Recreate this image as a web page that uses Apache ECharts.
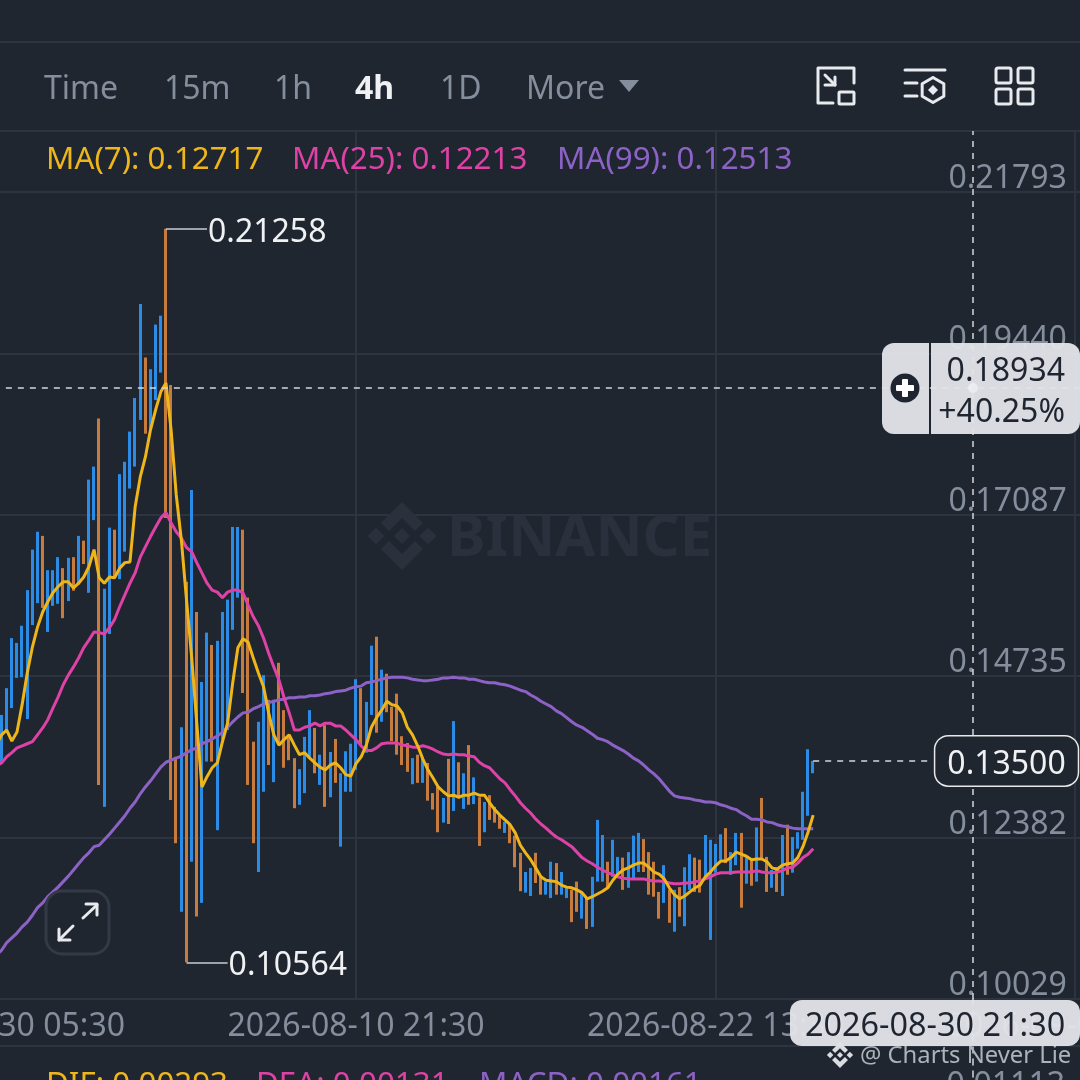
<!DOCTYPE html>
<html><head><meta charset="utf-8">
<style>html,body{margin:0;padding:0;background:#1f2630;overflow:hidden}#c{width:1080px;height:1080px}</style>
<script src="https://cdn.jsdelivr.net/npm/echarts@6/dist/echarts.min.js"></script>
</head><body><div id="c"></div>
<script>
// prices are listed in units of 0.0001
const highs=[1388,1417,1456,1529,1522,1547,1599,1658,1684,1678,1628,1628,1647,1631,1646,1647,1678,1671,1760,1779,1849,1601,1690,1687,1768,1786,1830,1879,2016,1938,1921,1986,1999,2125.8,1898,1356,1399,1611,1745,1567,1465,1537,1519,1525,1567,1585,1691,1691,1687,1588,1378,1407,1475,1439,1439,1493,1424,1388,1354,1338,1385,1424,1398,1359,1402,1363,1382,1332,1364,1375,1469,1456,1436,1518,1531,1483,1477,1429,1448,1386,1376,1354,1359,1354,1347,1303,1312,1296,1353,1408,1348,1332,1373,1326,1297,1290,1300,1283,1271,1261,1257,1241,1216,1188,1194,1216,1181,1174,1203,1201,1188,1166,1162,1174,1158,1150,1181,1264,1242,1203,1235,1210,1209,1217,1241,1245,1236,1217,1203,1159,1198,1162,1162,1166,1195,1214,1209,1206,1242,1235,1229,1243,1252,1217,1245,1245,1209,1206,1253,1296,1210,1191,1195,1242,1257,1239,1246,1305,1367,1350];
const lows=[1322,1347,1391,1427,1471,1472,1411,1548,1580,1573,1538,1576,1579,1558,1583,1598,1607,1637,1595,1701,1315,1283,1535,1618,1615,1655,1747,1779,1847,1827,1833,1876,1916,1704,1293,1230,1130,1056.4,1203,1123,1143,1349,1349,1249,1381,1395,1541,1588,1449,1315,1230,1188,1305,1344,1319,1376,1340,1351,1281,1286,1303,1356,1332,1315,1283,1297,1318,1225,1305,1305,1337,1373,1362,1417,1391,1407,1421,1379,1359,1344,1334,1316,1318,1318,1292,1279,1246,1260,1258,1277,1296,1280,1286,1287,1226,1246,1264,1260,1251,1245,1230,1195,1160,1158,1153,1172,1155,1155,1150,1155,1155,1150,1115,1130,1120,1105,1108,1174,1174,1165,1181,1184,1162,1165,1179,1188,1188,1155,1152,1120,1143,1114,1101,1123,1109,1162,1159,1158,1181,1089,1187,1206,1201,1184,1198,1136,1171,1168,1174,1206,1159,1165,1159,1153,1184,1187,1222,1235,1270,1332];
const opens=[1337,1373,1402,1432,1471,1483,1468,1556,1585,1660,1577,1585,1592,1621,1589,1636,1611,1665,1636,1709,1767,1322,1570,1679,1625,1730,1760,1818,1859,1927,1840,1898,1956,1964,1730,1330,1242,1585,1220,1541,1176,1373,1497,1351,1402,1417,1556,1599,1672,1468,1322,1249,1381,1432,1351,1483,1402,1381,1348,1293,1322,1366,1388,1322,1395,1308,1373,1242,1315,1315,1366,1446,1373,1424,1512,1417,1468,1424,1439,1381,1369,1322,1351,1322,1340,1300,1305,1267,1344,1293,1343,1293,1363,1293,1293,1252,1293,1279,1267,1249,1252,1235,1209,1162,1162,1209,1176,1159,1162,1194,1162,1155,1158,1168,1125,1144,1118,1179,1184,1197,1188,1191,1203,1174,1188,1198,1227,1211,1197,1153,1152,1158,1111,1162,1121,1174,1203,1200,1191,1184,1194,1213,1246,1191,1206,1238,1176,1200,1184,1249,1206,1171,1191,1165,1249,1194,1227,1242,1308,1332];
const closes=[1373,1395,1439,1475,1509,1526,1585,1614,1643,1585,1607,1611,1621,1570,1621,1607,1650,1640,1716,1767,1330,1585,1672,1628,1745,1774,1818,1862,1986,1835,1905,1964,1986,1730,1315,1238,1373,1082,1556,1162,1439,1512,1359,1512,1548,1570,1658,1672,1468,1330,1242,1388,1453,1351,1417,1388,1348,1356,1293,1330,1373,1410,1340,1351,1293,1351,1325,1322,1351,1366,1453,1381,1424,1497,1402,1468,1429,1384,1369,1351,1340,1348,1322,1348,1300,1281,1257,1290,1271,1381,1303,1322,1293,1319,1242,1284,1270,1264,1254,1257,1235,1203,1168,1182,1188,1179,1159,1169,1194,1162,1182,1162,1125,1140,1152,1115,1174,1249,1232,1171,1226,1206,1169,1209,1232,1238,1197,1165,1159,1127,1191,1121,1155,1130,1188,1206,1168,1165,1235,1226,1220,1238,1209,1211,1238,1176,1203,1174,1245,1213,1165,1187,1165,1235,1194,1232,1242,1296,1359,1350];
const ma7=[1373,1388,1395,1379,1392,1432,1478,1516,1545,1567,1582,1595,1604,1611,1611,1602,1609,1618,1633,1658,1617,1609,1618,1617,1631,1639,1640,1720,1764,1793,1833,1862,1888,1901,1833,1738,1672,1585,1502,1405,1312,1327,1340,1347,1378,1405,1464,1515,1528,1523,1500,1478,1458,1420,1388,1373,1381,1388,1373,1359,1362,1354,1347,1341,1337,1344,1347,1340,1330,1328,1346,1356,1373,1399,1413,1424,1437,1432,1430,1420,1399,1388,1372,1353,1337,1325,1312,1305,1299,1300,1297,1300,1300,1303,1300,1300,1289,1279,1271,1264,1257,1245,1227,1216,1206,1194,1181,1176,1175,1174,1169,1166,1165,1162,1158,1149,1152,1156,1160,1165,1176,1185,1191,1194,1198,1201,1201,1195,1188,1185,1178,1165,1155,1149,1153,1159,1165,1169,1181,1188,1197,1204,1204,1209,1217,1214,1211,1206,1207,1207,1203,1194,1192,1198,1200,1201,1209,1225,1246,1271];
const ma25=[1343,1347,1356,1362,1369,1372,1375,1378,1388,1398,1410,1427,1443,1461,1475,1487,1500,1515,1526,1538,1537,1535,1544,1556,1575,1592,1609,1624,1647,1662,1677,1691,1704,1712,1697,1684,1675,1661,1655,1639,1624,1609,1599,1596,1588,1596,1599,1599,1595,1577,1560,1547,1529,1507,1487,1468,1442,1420,1395,1395,1399,1401,1405,1401,1405,1405,1401,1401,1395,1388,1381,1372,1365,1365,1369,1375,1376,1376,1376,1373,1372,1370,1370,1372,1370,1367,1363,1360,1359,1360,1359,1359,1357,1356,1348,1343,1340,1332,1324,1318,1308,1299,1289,1281,1274,1265,1258,1252,1245,1239,1235,1230,1225,1217,1209,1204,1200,1195,1191,1187,1184,1181,1179,1178,1178,1178,1178,1176,1175,1175,1174,1172,1171,1171,1172,1172,1174,1175,1178,1181,1185,1187,1187,1187,1188,1188,1188,1188,1190,1188,1187,1187,1188,1190,1194,1195,1201,1209,1214,1222];
const ma99=[1067,1074,1085,1092,1099,1108,1115,1125,1136,1143,1152,1159,1166,1174,1182,1191,1200,1209,1216,1225,1227,1235,1243,1252,1261,1270,1281,1290,1302,1312,1321,1331,1341,1348,1351,1354,1357,1362,1366,1369,1375,1378,1382,1386,1392,1399,1407,1414,1420,1421,1426,1429,1433,1435,1437,1439,1440,1442,1442,1443,1443,1445,1445,1446,1448,1449,1451,1452,1453,1456,1458,1459,1464,1465,1467,1469,1471,1472,1472,1472,1471,1469,1468,1467,1467,1468,1469,1471,1471,1472,1471,1471,1469,1469,1467,1465,1464,1464,1462,1461,1459,1456,1453,1451,1446,1442,1437,1433,1429,1423,1419,1413,1407,1402,1399,1394,1389,1383,1381,1378,1373,1369,1365,1360,1354,1350,1344,1337,1331,1324,1315,1306,1299,1297,1296,1295,1293,1292,1290,1290,1289,1286,1284,1281,1279,1274,1270,1265,1265,1264,1261,1260,1257,1255,1254,1252,1251,1251,1251,1251];
const highValue=0.21258, lowValue=0.10564, lastPrice=0.13500, crossPrice=0.18934, crossChange='+40.25%';
const legendMA=[['MA(7): 0.12717',46],['MA(25): 0.12213',292],['MA(99): 0.12513',557]];
const legendMACD=[['DIF: 0.00293',46],['DEA: 0.00131',256],['MACD: 0.00161',479]];
const tabs=[['Time',44],['15m',164],['1h',274],['4h',355],['1D',440],['More',526]];
const UNIT=1e-4, CAT_COUNT=212, CROSS_INDEX=190, TICK_STEP=70;
const BG='#1f2630',GRID='#2d343f',GRAY='#848e9c',UP='#2a8ce6',DOWN='#c77b3c',YEL='#eeb61b',PINK='#de42a6',PUR='#8d62c6',BOX='#e1e3e8',DARK='#1e2530',FONT='"Noto Sans"';
const px=a=>a.map(v=>+(v*UNIT).toFixed(5));
const pad=n=>String(n).padStart(2,'0');
const categories=[];
for(let i=0;i<CAT_COUNT;i++){const d=new Date(Date.UTC(2026,6,30,5,30)+i*4*3600e3);
 categories.push(`${d.getUTCFullYear()}-${pad(d.getUTCMonth()+1)}-${pad(d.getUTCDate())} ${pad(d.getUTCHours())}:${pad(d.getUTCMinutes())}`);}
const candles=highs.map((h,i)=>[opens[i]*UNIT,closes[i]*UNIT,lows[i]*UNIT,h*UNIT]);

const T=(x,y,text,fill,size,o={})=>({type:'text',z:o.z||50,silent:true,style:{x,y:y+2,text,fill,font:`${o.weight||'normal'} ${size}px ${FONT}`,textAlign:o.align||'left',textVerticalAlign:'middle',opacity:o.opacity==null?1:o.opacity}});
const L=(x1,y1,x2,y2,stroke,w,o={})=>({type:'line',z:o.z||50,silent:true,shape:{x1,y1,x2,y2},style:{stroke,lineWidth:w,lineCap:'round',lineDash:o.dash||null}});
const P=(points,stroke,w,z=50)=>({type:'polyline',z,silent:true,shape:{points},style:{stroke,lineWidth:w,fill:null,lineCap:'round',lineJoin:'round'}});
const R=(x,y,width,height,r,style,z=50)=>({type:'rect',z,silent:true,shape:{x,y,width,height,r},style});
const POLY=(points,fill,z)=>({type:'polygon',z,silent:true,shape:{points},style:{fill}});
function logo(cx,cy,s,fill,z){const m=p=>p.map(q=>[cx+q[0]*s,cy+q[1]*s]);
 const d=(x,r)=>POLY(m([[x,-r],[x+r,0],[x,r],[x-r,0]]),fill,z);
 return [POLY(m([[0,-34],[21,-13],[13,-5],[0,-18],[-13,-5],[-21,-13]]),fill,z),POLY(m([[0,34],[21,13],[13,5],[0,18],[-13,5],[-21,13]]),fill,z),d(0,8),d(-26,8.5),d(26,8.5)];}
const ICON='#e8eaed';
const hex=[];for(let k=0;k<6;k++){const a=Math.PI/3*k-Math.PI/2;hex.push([933+12.5*Math.cos(a),90+12.5*Math.sin(a)]);}hex.push(hex[0]);
const graphic=[
 L(0,42,1080,42,GRID,2,{z:5}),L(0,1046,1080,1046,GRID,2,{z:5}),
 T(447,537,'BINANCE','#2a303c',58,{weight:'bold',z:1}),...logo(402,536,1,'#2a303c',1),
 ...tabs.map(t=>T(t[1],88,t[0],t[0]==='4h'?'#f0f1f3':GRAY,32,{weight:t[0]==='4h'?'bold':'normal'})),
 POLY([[619,80],[639,80],[629,92]],GRAY,50),
 ...legendMA.map((t,i)=>T(t[1],158,t[0],[YEL,PINK,PUR][i],31.3)),
 ...legendMACD.map((t,i)=>T(t[1],1083,t[0],[YEL,PINK,PUR][i],31.3)),
 T(1065,1084,'0.01113',GRAY,32,{align:'right'}),
 P([[854,83],[854,68],[818,68],[818,103],[833,103]],ICON,3),R(839,92,15,12,1,{stroke:ICON,lineWidth:3,fill:null}),
 L(825,75,835,85,ICON,3),P([[835,77],[835,85],[825,85]],ICON,3),
 L(905,70,945,70,ICON,3),L(905,83,917,83,ICON,3),L(905,96,917,96,ICON,3),P(hex,ICON,3),
 POLY([[933,85],[938,90],[933,95],[928,90]],ICON,50),
 ...[[996,68],[1018,68],[996,89],[1018,89]].map(q=>R(q[0],q[1],15,15,2,{stroke:ICON,lineWidth:3,fill:null})),
 R(46,891,63,63,16,{stroke:'#333a46',lineWidth:3,fill:BG},20),
 L(83,918,97,905,'#e8eaed',3,{z:21}),P([[86,904],[97,904],[97,915]],'#e8eaed',3,21),
 L(59,940,73,926,'#e8eaed',3,{z:21}),P([[59,929],[59,940],[70,940]],'#e8eaed',3,21),
 L(973,999,973,1080,'#d5d7dc',1.5,{dash:[6,6],z:10}),
 {type:'circle',z:60,silent:true,shape:{cx:973,cy:388,r:5},style:{fill:'#ffffff',opacity:0.45}},
 R(882,343,47,91,[12,0,0,12],{fill:BOX,opacity:0.96}),R(931,343,149,91,[0,12,12,0],{fill:BOX,opacity:0.96}),
 {type:'circle',z:51,silent:true,shape:{cx:905,cy:388,r:14.5},style:{fill:DARK}},
 R(902,379,6,18,1,{fill:'#fff'},52),R(896,385,18,6,1,{fill:'#fff'},52),
 T(1065,370,crossPrice.toFixed(5),DARK,32,{align:'right',z:52}),T(1065,411,crossChange,DARK,32,{align:'right',z:52}),
 R(790,1000,290,46,12,{fill:BOX,opacity:0.96}),
 T(805,1025,categories[CROSS_INDEX],DARK,32.4,{z:52}),
 ...logo(840,1055,0.38,'#d9dce1',40),
 T(860,1054,'@ Charts Never Lie','#aeb3bb',23.8,{z:40}),
];
const dash={color:'#d5d7dc',type:[6,6],width:1.5};
const extreme=(idx,val)=>[{coord:[idx,val],symbol:'none',lineStyle:{color:'#c9ccd1',type:'solid',width:1.5},
  label:{show:true,position:'end',formatter:'{v|'+val.toFixed(5)+'}',distance:1,
   rich:{v:{color:'#f0f1f3',fontSize:32,fontFamily:FONT,padding:[8,0,0,0]}}}},{coord:[idx+8,val],symbol:'none'}];
const option={animation:false,backgroundColor:BG,
 grid:{left:-6.136,top:131,width:1089,height:868,containLabel:false,outerBoundsMode:'none'},
 xAxis:{type:'category',data:categories,boundaryGap:true,
  axisLine:{lineStyle:{color:GRID,width:2}},axisTick:{show:false,alignWithLabel:true},
  splitLine:{show:true,alignWithLabel:true,interval:i=>i%TICK_STEP===0,lineStyle:{color:GRID,width:2}},
  axisLabel:{interval:i=>i%TICK_STEP===0,color:GRAY,fontSize:32,fontFamily:FONT,margin:12,hideOverlap:false,showMinLabel:true}},
 yAxis:{type:'value',position:'right',min:0.10029,max:0.22682,interval:0.023528,
  axisLine:{show:false},axisTick:{show:false},
  splitLine:{show:true,lineStyle:{color:GRID,width:2}},
  axisLabel:{inside:true,margin:16,color:GRAY,fontSize:32,fontFamily:FONT,verticalAlign:'bottom',verticalAlignMinLabel:'bottom',lineHeight:26,showMaxLabel:false,formatter:v=>v.toFixed(5)}},
 graphic:{elements:graphic},
 series:[
  {type:'candlestick',data:candles,barWidth:1,z:3,silent:true,
   itemStyle:{color:UP,color0:DOWN,borderColor:UP,borderColor0:DOWN,borderWidth:3},
   markLine:{silent:true,symbol:'none',animation:false,z:6,precision:5,data:[
     extreme(33,highValue),extreme(37,lowValue),
     {yAxis:crossPrice,lineStyle:dash,label:{show:false},symbol:'none'},
     {xAxis:CROSS_INDEX,lineStyle:dash,label:{show:false},symbol:'none'},
     [{coord:[159,lastPrice],symbol:'none',lineStyle:dash,
       label:{show:true,position:'end',distance:4,formatter:'{v|'+lastPrice.toFixed(5)+'}',
        rich:{v:{color:'#f0f1f3',fontSize:32,fontFamily:FONT,lineHeight:33,padding:[8,0,0,0]}},
        padding:[8,12,8,12],borderRadius:13,borderColor:'#e8e8e8',borderWidth:1.5,backgroundColor:BG}},{coord:[182,lastPrice],symbol:'none'}]
   ]}},
  {type:'line',data:px(ma99),symbol:'none',silent:true,z:4,lineStyle:{color:PUR,width:3}},
  {type:'line',data:px(ma25),symbol:'none',silent:true,z:4,lineStyle:{color:PINK,width:3}},
  {type:'line',data:px(ma7),symbol:'none',silent:true,z:4,lineStyle:{color:YEL,width:3}}
 ]};
echarts.init(document.getElementById('c'),null,{renderer:'canvas'}).setOption(option);
</script></body></html>
